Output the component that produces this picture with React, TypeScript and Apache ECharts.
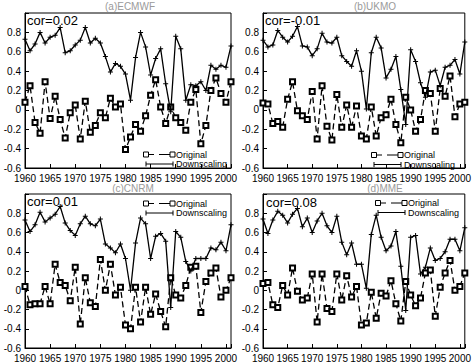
import React, { useEffect, useRef } from "react";
import * as echarts from "echarts";

const years: number[] = [];
for (let y = 1960; y <= 2001; y++) years.push(y);

const panelTitles = ["(a)ECMWF", "(b)UKMO", "(c)CNRM", "(d)MME"];
const corTexts = ["cor=0.02", "cor=-0.01", "cor=0.01", "cor=0.08"];
const xTickLabels = ["1960", "1965", "1970", "1975", "1980", "1985", "1990", "1995", "2000"];
const yTickLabels = ["-0.6", "-0.4", "-0.2", "0", "0.2", "0.4", "0.6", "0.8"];

const downA = [0.73, 0.61, 0.68, 0.80, 0.69, 0.75, 0.77, 0.85, 0.59, 0.61, 0.67, 0.72, 0.85, 0.69, 0.74, 0.69, 0.55, 0.39, 0.48, 0.45, 0.37, 0.10, 0.54, 0.80, 0.65, 0.36, 0.53, 0.63, 0.27, -0.02, 0.76, 0.63, 0.10, 0.26, 0.25, 0.29, 0.20, 0.46, 0.42, 0.46, 0.44, 0.66];
const origA = [0.08, 0.25, -0.13, -0.24, 0.29, -0.09, 0.14, -0.10, -0.29, -0.03, 0.05, -0.30, 0.09, -0.23, -0.16, -0.03, -0.08, 0.12, 0.03, 0.06, -0.41, -0.28, -0.15, -0.22, -0.06, 0.15, 0.31, 0.03, -0.14, 0.03, -0.08, -0.13, -0.21, 0.08, 0.21, -0.35, -0.16, 0.20, 0.33, 0.17, 0.08, 0.29];

const downB = [0.72, 0.65, 0.67, 0.82, 0.75, 0.70, 0.76, 0.86, 0.66, 0.65, 0.56, 0.63, 0.79, 0.70, 0.69, 0.75, 0.56, 0.50, 0.45, 0.61, 0.40, 0.01, 0.59, 0.75, 0.64, 0.33, 0.42, 0.55, 0.21, -0.15, 0.62, 0.50, 0.28, 0.13, 0.39, 0.41, 0.25, 0.44, 0.46, 0.52, 0.37, 0.70];
const origB = [0.07, 0.06, -0.14, -0.12, -0.18, 0.11, 0.29, -0.01, -0.06, -0.10, 0.19, -0.30, 0.25, -0.17, -0.31, 0.16, -0.18, 0.05, -0.18, 0.04, -0.27, -0.30, 0.03, -0.27, -0.08, -0.05, 0.11, -0.15, -0.34, 0.13, 0.00, -0.22, -0.10, 0.20, 0.17, -0.22, 0.22, 0.14, 0.35, -0.07, 0.06, 0.08];

const downC = [0.73, 0.61, 0.68, 0.81, 0.71, 0.75, 0.79, 0.87, 0.70, 0.62, 0.57, 0.69, 0.77, 0.69, 0.67, 0.74, 0.48, 0.44, 0.39, 0.48, 0.33, 0.00, 0.49, 0.75, 0.69, 0.33, 0.56, 0.59, 0.51, -0.18, 0.61, 0.55, 0.30, 0.20, 0.33, 0.33, 0.33, 0.44, 0.42, 0.50, 0.41, 0.68];
const origC = [0.04, -0.15, -0.14, -0.14, 0.04, -0.14, 0.27, 0.08, 0.05, -0.11, 0.24, -0.35, 0.13, -0.13, -0.17, 0.32, 0.00, 0.27, -0.05, 0.03, -0.36, -0.40, 0.03, -0.33, 0.03, -0.25, -0.04, -0.22, -0.38, 0.13, -0.05, -0.08, 0.05, 0.24, 0.25, -0.23, 0.09, 0.18, 0.23, -0.07, 0.00, 0.13];

const downD = [0.74, 0.59, 0.73, 0.82, 0.78, 0.70, 0.79, 0.85, 0.66, 0.75, 0.60, 0.72, 0.80, 0.67, 0.60, 0.77, 0.50, 0.37, 0.49, 0.27, 0.27, 0.02, 0.58, 0.78, 0.55, 0.41, 0.46, 0.61, 0.25, -0.21, 0.55, 0.57, 0.17, 0.24, 0.44, 0.31, 0.33, 0.40, 0.53, 0.53, 0.41, 0.65];
const origD = [0.07, 0.08, -0.15, -0.18, 0.05, -0.05, 0.23, -0.01, -0.10, -0.08, 0.17, -0.33, 0.17, -0.19, -0.22, 0.17, -0.10, 0.15, -0.07, 0.04, -0.36, -0.34, -0.02, -0.29, -0.03, -0.06, 0.10, -0.14, -0.32, 0.09, -0.05, -0.16, -0.08, 0.18, 0.21, -0.27, 0.03, 0.18, 0.31, 0.00, 0.04, 0.18];

const downSeries = [downA, downB, downC, downD];
const origSeries = [origA, origB, origC, origD];

const FONT = "Liberation Sans, Arial, sans-serif";

// layout
const grids = [
  { left: 25, top: 13, width: 206, height: 155 },
  { left: 263, top: 13, width: 207, height: 155 },
  { left: 25, top: 194, width: 206, height: 155 },
  { left: 263, top: 194, width: 207, height: 155 },
];
const titlePos = [
  { x: 130, y: 6 },
  { x: 375, y: 6 },
  { x: 133, y: 188.5 },
  { x: 385, y: 188.5 },
];
const corPos = [
  { x: 27, y: 20 },
  { x: 265, y: 20 },
  { x: 27, y: 201 },
  { x: 266, y: 202 },
];
const legendPos = [
  { x: 146, y: 154.5 },
  { x: 374, y: 155 },
  { x: 146, y: 203.5 },
  { x: 378, y: 203 },
];

const plusPath = "path://M2,0H3V2H5V3H3V5H2V3H0V2H2Z";

function legendGraphics(x: number, y: number): any[] {
  const y2 = y + 9.5;
  const stroke = { stroke: "#000", lineWidth: 1 };
  const els: any[] = [
    { type: "rect", shape: { x: x - 2.5, y: y - 2.5, width: 5, height: 5 }, style: { fill: "#fff", stroke: "#000", lineWidth: 1 } },
    { type: "line", shape: { x1: x + 2.5, y1: y, x2: x + 8, y2: y }, style: stroke },
    { type: "line", shape: { x1: x + 13, y1: y, x2: x + 24, y2: y }, style: stroke },
    { type: "rect", shape: { x: x + 24, y: y - 2.5, width: 5, height: 5 }, style: { fill: "#fff", stroke: "#000", lineWidth: 1 } },
    { type: "text", x: x + 30, y: y, style: { text: "Original", fill: "#000", font: `9px ${FONT}`, textVerticalAlign: "middle" } },
    { type: "line", shape: { x1: x, y1: y2, x2: x + 27, y2: y2 }, style: stroke },
    { type: "line", shape: { x1: x, y1: y2 - 2.5, x2: x, y2: y2 + 2.5 }, style: stroke },
    { type: "line", shape: { x1: x + 27, y1: y2 - 2.5, x2: x + 27, y2: y2 + 2.5 }, style: stroke },
    { type: "text", x: x + 30, y: y2, style: { text: "Downscaling", fill: "#000", font: `9px ${FONT}`, textVerticalAlign: "middle" } },
  ];
  return els;
}

export default function App() {
  const ref = useRef<HTMLDivElement>(null);
  useEffect(() => {
    if (!ref.current) return;
    const chart = echarts.init(ref.current, null, { renderer: "svg" });
    const xAxes: any[] = [];
    const yAxes: any[] = [];
    const series: any[] = [];
    const graphic: any[] = [];
    grids.forEach((g, i) => {
      xAxes.push({
        type: "value",
        gridIndex: i,
        min: 1960,
        max: 2001,
        interval: 5,
        splitLine: { show: false },
        axisLine: { show: true, onZero: false, lineStyle: { color: "#000", width: 1 } },
        axisTick: { show: true, inside: true, length: 4, lineStyle: { color: "#000" } },
        axisLabel: {
          color: "#000",
          fontFamily: FONT,
          fontSize: 10,
          margin: 5,
          hideOverlap: false,
          formatter: (v: number) => {
            const s = String(Math.round(v));
            return xTickLabels.indexOf(s) >= 0 ? s : "";
          },
        },
      });
      yAxes.push({
        type: "value",
        gridIndex: i,
        min: -0.6,
        max: 1.0,
        interval: 0.2,
        splitLine: { show: false },
        axisLine: { show: true, onZero: false, lineStyle: { color: "#000", width: 1 } },
        axisTick: { show: true, inside: true, length: 4, lineStyle: { color: "#000" } },
        axisLabel: {
          color: "#000",
          fontFamily: FONT,
          fontSize: 10,
          margin: 4,
          formatter: (v: number) => {
            const s = String(Math.round(v * 10) / 10);
            return yTickLabels.indexOf(s) >= 0 ? s : "";
          },
        },
      });
      series.push({
        type: "line",
        name: "Original",
        xAxisIndex: i,
        yAxisIndex: i,
        data: years.map((y, k) => [y, origSeries[i][k]]),
        symbol: "emptyRect",
        symbolSize: 5,
        showAllSymbol: true,
        lineStyle: { color: "#000", width: 1.3, type: [6, 3.5] },
        itemStyle: { color: "#000", borderColor: "#000", borderWidth: 1 },
        z: 2,
      });
      series.push({
        type: "line",
        name: "Downscaling",
        xAxisIndex: i,
        yAxisIndex: i,
        data: years.map((y, k) => [y, downSeries[i][k]]),
        symbol: plusPath,
        symbolSize: 5,
        showAllSymbol: true,
        lineStyle: { color: "#000", width: 1.3 },
        itemStyle: { color: "#000" },
        z: 3,
      });
      graphic.push({
        type: "text",
        x: titlePos[i].x,
        y: titlePos[i].y,
        style: { text: panelTitles[i], fill: "#9a9a9a", font: `10px ${FONT}`, textAlign: "center", textVerticalAlign: "middle" },
      });
      graphic.push({
        type: "text",
        x: corPos[i].x,
        y: corPos[i].y,
        style: { text: corTexts[i], fill: "#000", font: `13px ${FONT}`, textVerticalAlign: "middle" },
      });
      legendGraphics(legendPos[i].x, legendPos[i].y).forEach((e) => graphic.push(e));
    });
    chart.setOption({
      animation: false,
      backgroundColor: "#fff",
      grid: grids.map((g) => ({ ...g, show: true, borderColor: "#000", borderWidth: 1, backgroundColor: "transparent" })),
      xAxis: xAxes,
      yAxis: yAxes,
      series,
      graphic,
    });
    return () => chart.dispose();
  }, []);
  return <div ref={ref} style={{ position: "absolute", left: 0, top: 0, width: 474, height: 363 }} />;
}
